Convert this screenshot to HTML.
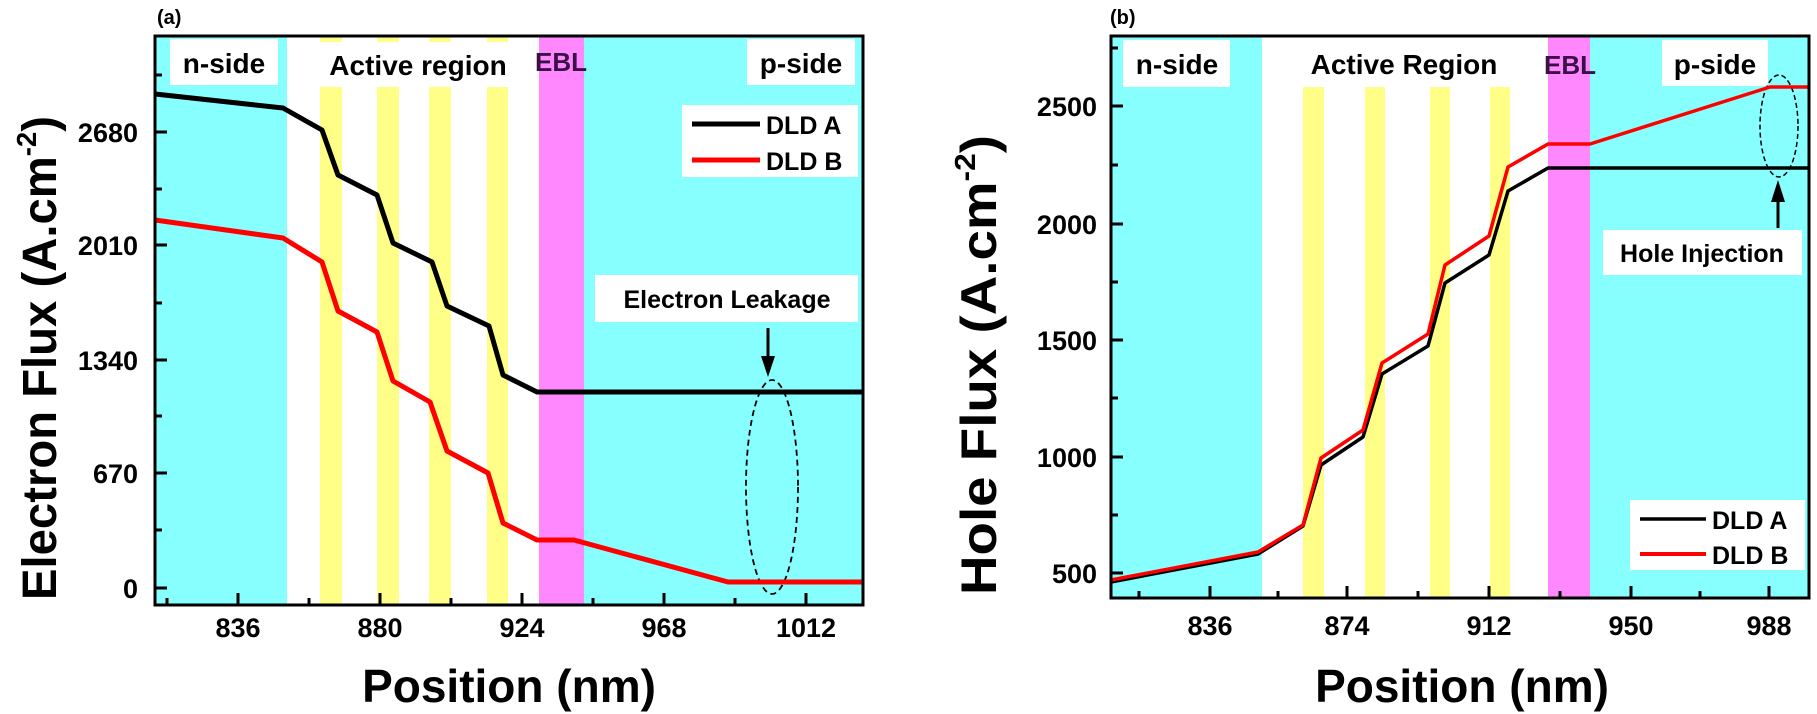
<!DOCTYPE html>
<html><head><meta charset="utf-8"><style>
html,body{margin:0;padding:0;background:#fff;}
svg{display:block;font-family:"Liberation Sans",Arial,sans-serif;font-weight:bold;}
</style></head><body>
<svg width="1817" height="714" viewBox="0 0 1817 714" xmlns="http://www.w3.org/2000/svg">
<!-- ===== Panel A ===== -->
<text x="157" y="24" font-size="20">(a)</text>
<rect x="155" y="36" width="132" height="569" fill="#88ffff"/>
<rect x="539" y="36" width="45" height="569" fill="#ff88ff"/>
<rect x="584" y="36" width="279" height="569" fill="#88ffff"/>
<g fill="#ffff88">
<rect x="320" y="36" width="22" height="569"/><rect x="377" y="36" width="22" height="569"/>
<rect x="429" y="36" width="22" height="569"/><rect x="487" y="36" width="21" height="569"/>
</g>
<rect x="316" y="42" width="196" height="45" fill="#fff"/>
<rect x="170" y="39" width="108" height="46" fill="#fff"/>
<rect x="747" y="39" width="108" height="46" fill="#fff"/>
<text x="224" y="73" font-size="28" text-anchor="middle">n-side</text>
<text x="418" y="75" font-size="28" text-anchor="middle">Active region</text>
<text x="561" y="71" font-size="26" text-anchor="middle" fill="#3a1046">EBL</text>
<text x="801" y="73" font-size="28" text-anchor="middle">p-side</text>
<rect x="682" y="105" width="176" height="72" fill="#fff"/>
<line x1="692" y1="124" x2="760" y2="124" stroke="#000" stroke-width="5"/>
<line x1="692" y1="160" x2="760" y2="160" stroke="#f00" stroke-width="5"/>
<text x="766" y="134" font-size="25">DLD A</text>
<text x="766" y="170" font-size="25">DLD B</text>
<rect x="595" y="275" width="263" height="47" fill="#fff"/>
<text x="727" y="308" font-size="25" text-anchor="middle">Electron Leakage</text>
<line x1="768" y1="328" x2="768" y2="360" stroke="#000" stroke-width="3"/>
<polygon points="761,356 775,356 768,377" fill="#000"/>
<ellipse cx="772" cy="487" rx="26" ry="107" fill="none" stroke="#000" stroke-width="1.8" stroke-dasharray="6,4"/>
<polyline fill="none" stroke="#000" stroke-width="5" stroke-linejoin="round" points="155,94 283,108 322,130 338,175 377,195 393,243 432,262 447,306 489,326 503,375 537,392 863,392"/>
<polyline fill="none" stroke="#f00" stroke-width="5" stroke-linejoin="round" points="155,220 283,238 322,262 338,311 377,332 393,381 430,402 447,451 488,473 503,523 537,540 574,540 728,582 863,582"/>
<rect x="155" y="36" width="708" height="569" fill="none" stroke="#000" stroke-width="3"/>
<g stroke="#000" stroke-width="3">
<line x1="155" y1="588" x2="167" y2="588"/><line x1="155" y1="473" x2="167" y2="473"/>
<line x1="155" y1="360" x2="167" y2="360"/><line x1="155" y1="245" x2="167" y2="245"/>
<line x1="155" y1="132" x2="167" y2="132"/>
<line x1="155" y1="530" x2="162" y2="530"/><line x1="155" y1="416" x2="162" y2="416"/>
<line x1="155" y1="303" x2="162" y2="303"/><line x1="155" y1="189" x2="162" y2="189"/>
<line x1="155" y1="75" x2="162" y2="75"/>
<line x1="238" y1="605" x2="238" y2="593"/><line x1="380" y1="605" x2="380" y2="593"/>
<line x1="522" y1="605" x2="522" y2="593"/><line x1="664" y1="605" x2="664" y2="593"/>
<line x1="806" y1="605" x2="806" y2="593"/>
<line x1="167" y1="605" x2="167" y2="598"/><line x1="309" y1="605" x2="309" y2="598"/>
<line x1="451" y1="605" x2="451" y2="598"/><line x1="593" y1="605" x2="593" y2="598"/>
<line x1="735" y1="605" x2="735" y2="598"/>
</g>
<g font-size="27" text-anchor="end">
<text x="138" y="142">2680</text><text x="138" y="255">2010</text><text x="138" y="370">1340</text>
<text x="138" y="483">670</text><text x="138" y="598">0</text>
</g>
<g font-size="27" text-anchor="middle">
<text x="238" y="637">836</text><text x="380" y="637">880</text><text x="522" y="637">924</text>
<text x="664" y="637">968</text><text x="806" y="637">1012</text>
</g>
<text x="509" y="702" font-size="46" text-anchor="middle">Position (nm)</text>
<text transform="translate(56,358) rotate(-90)" font-size="48" text-anchor="middle" textLength="484" lengthAdjust="spacingAndGlyphs">Electron Flux (A.cm<tspan font-size="28" dy="-20">-2</tspan><tspan dy="20">)</tspan></text>

<!-- ===== Panel B ===== -->
<text x="1110" y="24" font-size="20">(b)</text>
<rect x="1111" y="36" width="151" height="562" fill="#88ffff"/>
<rect x="1548" y="36" width="42" height="562" fill="#ff88ff"/>
<rect x="1590" y="36" width="219" height="562" fill="#88ffff"/>
<g fill="#ffff88">
<rect x="1303" y="87" width="21" height="511"/><rect x="1365" y="87" width="20" height="511"/>
<rect x="1430" y="87" width="20" height="511"/><rect x="1490" y="87" width="20" height="511"/>
</g>
<rect x="1123" y="40" width="107" height="47" fill="#fff"/>
<rect x="1662" y="40" width="106" height="46" fill="#fff"/>
<text x="1177" y="74" font-size="28" text-anchor="middle">n-side</text>
<text x="1404" y="74" font-size="28" text-anchor="middle">Active Region</text>
<text x="1570" y="74" font-size="26" text-anchor="middle" fill="#3a1046">EBL</text>
<text x="1715" y="74" font-size="28" text-anchor="middle">p-side</text>
<rect x="1603" y="230" width="199" height="45" fill="#fff"/>
<text x="1702" y="262" font-size="25" text-anchor="middle">Hole Injection</text>
<line x1="1778" y1="228" x2="1778" y2="198" stroke="#000" stroke-width="3"/>
<polygon points="1771,202 1785,202 1778,180" fill="#000"/>
<ellipse cx="1779" cy="126" rx="19" ry="51" fill="none" stroke="#000" stroke-width="1.5" stroke-dasharray="5,3"/>
<rect x="1630" y="500" width="175" height="70" fill="#fff"/>
<line x1="1640" y1="519" x2="1706" y2="519" stroke="#000" stroke-width="3.5"/>
<line x1="1640" y1="554" x2="1706" y2="554" stroke="#f00" stroke-width="4"/>
<text x="1712" y="529" font-size="25">DLD A</text>
<text x="1712" y="564" font-size="25">DLD B</text>
<polyline fill="none" stroke="#000" stroke-width="3.5" stroke-linejoin="round" points="1111,582 1258,554 1303,526 1321,465 1363,437 1382,374 1428,346 1445,283 1489,255 1508,191 1548,168 1809,168"/>
<polyline fill="none" stroke="#f00" stroke-width="3.5" stroke-linejoin="round" points="1111,580 1258,552 1303,525 1321,458 1363,430 1382,363 1428,334 1445,265 1489,236 1508,167 1548,144 1590,144 1770,87 1809,87"/>
<rect x="1111" y="36" width="698" height="562" fill="none" stroke="#000" stroke-width="3"/>
<g stroke="#000" stroke-width="3">
<line x1="1111" y1="106" x2="1123" y2="106"/><line x1="1111" y1="224" x2="1123" y2="224"/>
<line x1="1111" y1="340" x2="1123" y2="340"/><line x1="1111" y1="457" x2="1123" y2="457"/>
<line x1="1111" y1="573" x2="1123" y2="573"/>
<line x1="1111" y1="48" x2="1118" y2="48"/><line x1="1111" y1="165" x2="1118" y2="165"/>
<line x1="1111" y1="282" x2="1118" y2="282"/><line x1="1111" y1="398" x2="1118" y2="398"/>
<line x1="1111" y1="515" x2="1118" y2="515"/>
<line x1="1210" y1="598" x2="1210" y2="586"/><line x1="1347" y1="598" x2="1347" y2="586"/>
<line x1="1489" y1="598" x2="1489" y2="586"/><line x1="1631" y1="598" x2="1631" y2="586"/>
<line x1="1769" y1="598" x2="1769" y2="586"/>
<line x1="1139" y1="598" x2="1139" y2="591"/><line x1="1278" y1="598" x2="1278" y2="591"/>
<line x1="1418" y1="598" x2="1418" y2="591"/><line x1="1560" y1="598" x2="1560" y2="591"/>
<line x1="1700" y1="598" x2="1700" y2="591"/>
</g>
<g font-size="27" text-anchor="end">
<text x="1097" y="116">2500</text><text x="1097" y="234">2000</text><text x="1097" y="350">1500</text>
<text x="1097" y="467">1000</text><text x="1097" y="583">500</text>
</g>
<g font-size="27" text-anchor="middle">
<text x="1210" y="635">836</text><text x="1347" y="635">874</text><text x="1489" y="635">912</text>
<text x="1631" y="635">950</text><text x="1769" y="635">988</text>
</g>
<text x="1462" y="702" font-size="46" text-anchor="middle">Position (nm)</text>
<text transform="translate(996,365) rotate(-90)" font-size="50" text-anchor="middle" textLength="460" lengthAdjust="spacingAndGlyphs">Hole Flux (A.cm<tspan font-size="29" dy="-21">-2</tspan><tspan dy="21">)</tspan></text>
</svg>
</body></html>
